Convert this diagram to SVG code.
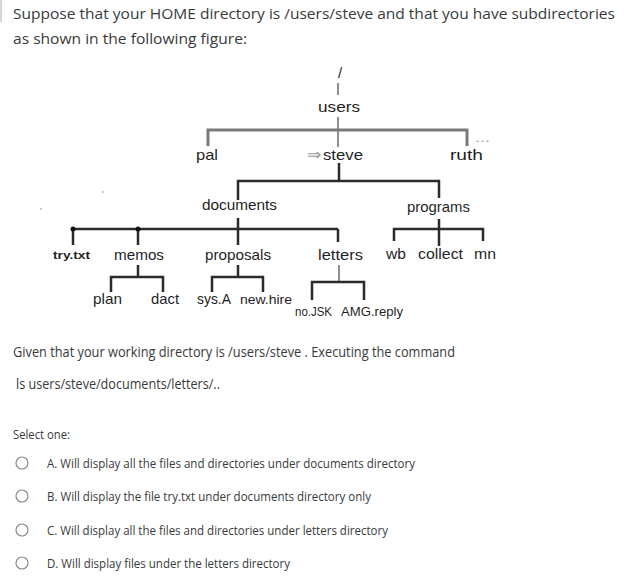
<svg xmlns="http://www.w3.org/2000/svg" width="633" height="580" viewBox="0 0 633 580">
<style>
.q{font-family:"Open Sans","Liberation Sans",sans-serif;font-size:15px;fill:#373a3c}
.p{font-family:"Open Sans","Liberation Sans",sans-serif;font-size:14px;fill:#373a3c}
.o{font-family:"Open Sans","Liberation Sans",sans-serif;font-size:13.5px;fill:#373a3c}
.t{font-family:"Liberation Sans","Open Sans",sans-serif;font-size:15px;fill:#1f1f1f}
.s{font-family:"Liberation Sans","Open Sans",sans-serif;font-size:12.5px;fill:#1f1f1f}
.k{stroke:#2b2b2b;stroke-width:2.5;fill:none}
.g{stroke:#7a7a7a;stroke-width:3;fill:none}
.h{stroke:#6a6a6a;stroke-width:1.5;fill:none}
.r{fill:#fff;stroke:#8a8a8a;stroke-width:1.2}
</style>
<rect width="633" height="580" fill="#fff"/>
<rect x="0" y="0" width="2" height="22" fill="#d6d6d6"/>
<g id="question">
<text class="q" x="13" y="19" textLength="602" lengthAdjust="spacingAndGlyphs">Suppose that your HOME directory is  /users/steve and that you have subdirectories</text>
<text class="q" x="13" y="44" textLength="234" lengthAdjust="spacingAndGlyphs">as shown in the following figure:</text>
<text class="p" x="13" y="357" textLength="442" lengthAdjust="spacingAndGlyphs">Given that your working directory is /users/steve .  Executing the command</text>
<text class="p" x="16" y="389" textLength="204" lengthAdjust="spacingAndGlyphs">ls users/steve/documents/letters/..</text>
<text class="o" x="13" y="439" textLength="57" lengthAdjust="spacingAndGlyphs">Select one:</text>
</g>
<g id="connectors">
<line class="h" x1="338" y1="83" x2="338" y2="95"/>
<line class="h" x1="338" y1="117" x2="338" y2="147"/>
<polyline class="g" points="208,146 208,130 467,130 467,146"/>
<line class="k" x1="339" y1="163" x2="339" y2="181"/>
<polyline class="k" points="238,200 238,181 439,181 439,198"/>
<line class="k" x1="238" y1="218" x2="238" y2="245"/>
<line class="k" x1="73" y1="229" x2="338" y2="229"/>
<line class="k" x1="73" y1="229" x2="73" y2="245"/>
<line class="k" x1="138" y1="229" x2="138" y2="245"/>
<line class="k" x1="338" y1="229" x2="338" y2="242"/>
<circle cx="73" cy="229" r="2.5" fill="#111"/>
<circle cx="138" cy="229" r="2.5" fill="#111"/>
<line class="k" x1="439" y1="219" x2="439" y2="246"/>
<polyline class="k" points="394,241 394,229 483,229 483,241"/>
<line class="k" x1="138" y1="265" x2="138" y2="277"/>
<polyline class="k" points="111,292 111,277 163,277 163,292"/>
<line class="k" x1="238" y1="265" x2="238" y2="277"/>
<polyline class="k" points="212,292 212,277 263,277 263,292"/>
<line class="h" x1="339" y1="265" x2="339" y2="282"/>
<polyline class="k" points="312,300 312,282 364,282 364,300"/>
</g>
<g id="root"><text class="t" x="340" y="78" text-anchor="middle">/</text></g>
<g id="users"><text class="t" x="318" y="112" textLength="42" lengthAdjust="spacingAndGlyphs">users</text></g>
<g id="pal"><text class="t" x="196" y="160" textLength="22" lengthAdjust="spacingAndGlyphs">pal</text></g>
<g id="steve"><text class="t" x="307" y="160" style="fill:#9a9a9a;font-size:16px" textLength="14" lengthAdjust="spacingAndGlyphs">⇒</text><text class="t" x="323" y="160" textLength="40" lengthAdjust="spacingAndGlyphs">steve</text></g>
<g id="ruth"><text class="t" x="450" y="160" textLength="33" lengthAdjust="spacingAndGlyphs">ruth</text><text class="t" x="475" y="142" style="fill:#9a9a9a;font-size:12px" textLength="15" lengthAdjust="spacingAndGlyphs">...</text></g>
<g id="documents"><text class="t" x="202" y="210" textLength="75" lengthAdjust="spacingAndGlyphs">documents</text></g>
<g id="programs"><text class="t" x="407" y="212" textLength="63" lengthAdjust="spacingAndGlyphs">programs</text></g>
<g id="try"><text class="t" x="53" y="259" style="font-size:11px;font-weight:bold" textLength="37" lengthAdjust="spacingAndGlyphs">try.txt</text></g>
<g id="memos"><text class="t" x="114" y="260" textLength="50" lengthAdjust="spacingAndGlyphs">memos</text></g>
<g id="proposals"><text class="t" x="205" y="260" textLength="66" lengthAdjust="spacingAndGlyphs">proposals</text></g>
<g id="letters"><text class="t" x="318" y="260" textLength="45" lengthAdjust="spacingAndGlyphs">letters</text></g>
<g id="wb"><text class="t" x="386" y="259" textLength="20" lengthAdjust="spacingAndGlyphs">wb</text></g>
<g id="collect"><text class="t" x="418" y="259" textLength="45" lengthAdjust="spacingAndGlyphs">collect</text></g>
<g id="mn"><text class="t" x="474" y="259" textLength="22" lengthAdjust="spacingAndGlyphs">mn</text></g>
<g id="plan"><text class="t" x="93" y="304" textLength="29" lengthAdjust="spacingAndGlyphs">plan</text></g>
<g id="dact"><text class="t" x="151" y="304" textLength="28" lengthAdjust="spacingAndGlyphs">dact</text></g>
<g id="sysA"><text class="t" x="197" y="304" textLength="34" lengthAdjust="spacingAndGlyphs">sys.A</text></g>
<g id="newhire"><text class="s" x="240" y="304" textLength="52" lengthAdjust="spacingAndGlyphs">new.hire</text></g>
<g id="noJSK"><text class="s" x="295" y="316" textLength="37" lengthAdjust="spacingAndGlyphs">no.JSK</text></g>
<g id="AMGreply"><text class="s" x="341" y="316" textLength="62" lengthAdjust="spacingAndGlyphs">AMG.reply</text></g>
<circle cx="41" cy="209" r="1" fill="#bbb"/>
<circle cx="103" cy="192" r="1" fill="#bbb"/>
<g id="options">
<circle class="r" cx="22" cy="463" r="6"/>
<text class="o" x="47" y="468" textLength="368" lengthAdjust="spacingAndGlyphs">A. Will display all the files and directories under documents directory</text>
<circle class="r" cx="22" cy="496" r="6"/>
<text class="o" x="47" y="501" textLength="324" lengthAdjust="spacingAndGlyphs">B. Will display the file try.txt under documents directory only</text>
<circle class="r" cx="22" cy="530" r="6"/>
<text class="o" x="47" y="535" textLength="341" lengthAdjust="spacingAndGlyphs">C. Will display all the files and directories under letters directory</text>
<circle class="r" cx="22" cy="563" r="6"/>
<text class="o" x="47" y="568" textLength="243" lengthAdjust="spacingAndGlyphs">D. Will display files under the letters directory</text>
</g>
</svg>
